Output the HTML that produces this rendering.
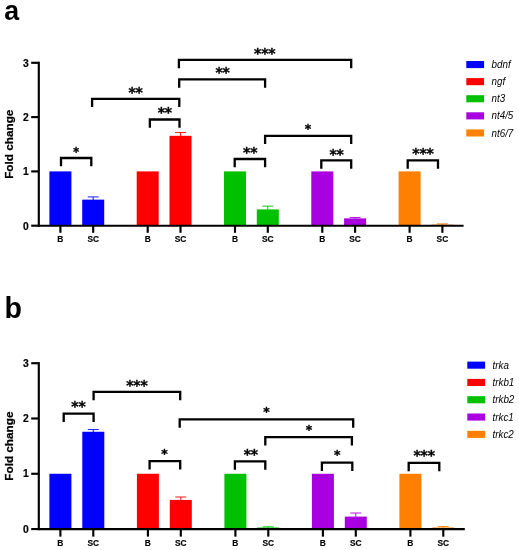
<!DOCTYPE html>
<html><head><meta charset="utf-8"><title>Figure</title>
<style>
html,body{margin:0;padding:0;background:#fff}
svg{display:block}
text{font-family:"Liberation Sans",Arial,Helvetica,sans-serif;fill:#000}
.st{font-family:"DejaVu Sans","Liberation Sans",sans-serif;font-weight:bold;letter-spacing:-0.15px;stroke:#000;stroke-width:0.38px}
.yt{font-weight:bold;font-size:10.3px;stroke:#000;stroke-width:0.2px}
.xt{font-weight:bold;font-size:8.4px;stroke:#000;stroke-width:0.15px}
.yl{font-weight:bold;font-size:11.75px;stroke:#000;stroke-width:0.25px}
.lg{font-style:italic;font-size:10.8px}
.pl{font-weight:bold;font-size:28.5px}
</style></head><body>
<svg width="519" height="550" viewBox="0 0 519 550">
<rect width="519" height="550" fill="#fff"/>
<rect x="49.40" y="171.40" width="22.00" height="54.30" fill="#0000ff"/>
<path d="M87.70 196.92H98.70M93.20 196.92V200.14" stroke="#0000ff" stroke-width="0.9" fill="none"/>
<rect x="82.20" y="199.64" width="22.00" height="26.06" fill="#0000ff"/>
<rect x="136.70" y="171.40" width="22.00" height="54.30" fill="#ff0000"/>
<path d="M175.00 132.58H186.00M180.50 132.58V136.33" stroke="#ff0000" stroke-width="0.9" fill="none"/>
<rect x="169.50" y="135.83" width="22.00" height="89.87" fill="#ff0000"/>
<rect x="224.00" y="171.40" width="22.00" height="54.30" fill="#00c000"/>
<path d="M262.30 206.15H273.30M267.80 206.15V209.91" stroke="#00c000" stroke-width="0.9" fill="none"/>
<rect x="256.80" y="209.41" width="22.00" height="16.29" fill="#00c000"/>
<rect x="311.30" y="171.40" width="22.00" height="54.30" fill="#a800e0"/>
<path d="M349.60 217.45H360.60M355.10 217.45V218.87" stroke="#a800e0" stroke-width="0.9" fill="none"/>
<rect x="344.10" y="218.37" width="22.00" height="7.33" fill="#a800e0"/>
<rect x="398.60" y="171.40" width="22.00" height="54.30" fill="#ff8000"/>
<path d="M436.90 223.85H447.90M442.40 223.85V225.11" stroke="#ff8000" stroke-width="0.9" fill="none"/>
<rect x="431.40" y="224.61" width="22.00" height="1.09" fill="#ff8000"/>
<path d="M38.80 61.73V226.77" stroke="#000" stroke-width="2.15" fill="none"/>
<path d="M37.72 225.70H463.60" stroke="#000" stroke-width="2.15" fill="none"/>
<path d="M31.2 225.70H38.80" stroke="#000" stroke-width="2.15" fill="none"/>
<text class="yt" x="28.8" y="229.55" text-anchor="end">0</text>
<path d="M31.2 171.40H38.80" stroke="#000" stroke-width="2.15" fill="none"/>
<text class="yt" x="28.8" y="175.25" text-anchor="end">1</text>
<path d="M31.2 117.10H38.80" stroke="#000" stroke-width="2.15" fill="none"/>
<text class="yt" x="28.8" y="120.95" text-anchor="end">2</text>
<path d="M31.2 62.80H38.80" stroke="#000" stroke-width="2.15" fill="none"/>
<text class="yt" x="28.8" y="66.65" text-anchor="end">3</text>
<path d="M60.40 225.70V232.80" stroke="#000" stroke-width="2.15" fill="none"/>
<text class="xt" x="60.40" y="242.00" text-anchor="middle">B</text>
<path d="M93.20 225.70V232.80" stroke="#000" stroke-width="2.15" fill="none"/>
<text class="xt" x="93.20" y="242.00" text-anchor="middle">SC</text>
<path d="M147.70 225.70V232.80" stroke="#000" stroke-width="2.15" fill="none"/>
<text class="xt" x="147.70" y="242.00" text-anchor="middle">B</text>
<path d="M180.50 225.70V232.80" stroke="#000" stroke-width="2.15" fill="none"/>
<text class="xt" x="180.50" y="242.00" text-anchor="middle">SC</text>
<path d="M235.00 225.70V232.80" stroke="#000" stroke-width="2.15" fill="none"/>
<text class="xt" x="235.00" y="242.00" text-anchor="middle">B</text>
<path d="M267.80 225.70V232.80" stroke="#000" stroke-width="2.15" fill="none"/>
<text class="xt" x="267.80" y="242.00" text-anchor="middle">SC</text>
<path d="M322.30 225.70V232.80" stroke="#000" stroke-width="2.15" fill="none"/>
<text class="xt" x="322.30" y="242.00" text-anchor="middle">B</text>
<path d="M355.10 225.70V232.80" stroke="#000" stroke-width="2.15" fill="none"/>
<text class="xt" x="355.10" y="242.00" text-anchor="middle">SC</text>
<path d="M409.60 225.70V232.80" stroke="#000" stroke-width="2.15" fill="none"/>
<text class="xt" x="409.60" y="242.00" text-anchor="middle">B</text>
<path d="M442.40 225.70V232.80" stroke="#000" stroke-width="2.15" fill="none"/>
<text class="xt" x="442.40" y="242.00" text-anchor="middle">SC</text>
<text class="yl" transform="translate(12.8 144.25) rotate(-90)" text-anchor="middle">Fold change</text>
<path d="M61.00 166.30V158.00H91.30V166.30" stroke="#000" stroke-width="2.3" fill="none" stroke-linejoin="miter" stroke-linecap="butt"/>
<path d="M149.85 127.80V119.50H179.50V127.80" stroke="#000" stroke-width="2.3" fill="none" stroke-linejoin="miter" stroke-linecap="butt"/>
<path d="M92.10 107.10V98.80H179.30V107.10" stroke="#000" stroke-width="2.3" fill="none" stroke-linejoin="miter" stroke-linecap="butt"/>
<path d="M178.90 68.20V59.90H351.20V68.20" stroke="#000" stroke-width="2.3" fill="none" stroke-linejoin="miter" stroke-linecap="butt"/>
<path d="M179.20 87.70V79.40H265.10V87.70" stroke="#000" stroke-width="2.3" fill="none" stroke-linejoin="miter" stroke-linecap="butt"/>
<path d="M234.70 167.30V159.00H265.10V167.30" stroke="#000" stroke-width="2.3" fill="none" stroke-linejoin="miter" stroke-linecap="butt"/>
<path d="M265.10 144.10V135.80H351.20V144.10" stroke="#000" stroke-width="2.3" fill="none" stroke-linejoin="miter" stroke-linecap="butt"/>
<path d="M321.30 168.70V160.40H351.20V168.70" stroke="#000" stroke-width="2.3" fill="none" stroke-linejoin="miter" stroke-linecap="butt"/>
<path d="M407.70 168.70V160.40H438.00V168.70" stroke="#000" stroke-width="2.3" fill="none" stroke-linejoin="miter" stroke-linecap="butt"/>
<text class="st" style="font-size:11.18px" transform="translate(73.15 156.15) scale(1 1.05)">*</text>
<text class="st" style="font-size:13.90px" transform="translate(128.40 96.92) scale(1 1.05)">**</text>
<text class="st" style="font-size:13.90px" transform="translate(157.65 117.42) scale(1 1.05)">**</text>
<text class="st" style="font-size:13.90px" transform="translate(254.04 57.72) scale(1 1.05)">***</text>
<text class="st" style="font-size:13.90px" transform="translate(215.50 76.62) scale(1 1.05)">**</text>
<text class="st" style="font-size:13.90px" transform="translate(243.10 156.52) scale(1 1.05)">**</text>
<text class="st" style="font-size:12.39px" transform="translate(304.64 132.70) scale(1 1.05)">*</text>
<text class="st" style="font-size:13.90px" transform="translate(329.50 158.52) scale(1 1.05)">**</text>
<text class="st" style="font-size:13.90px" transform="translate(412.34 158.32) scale(1 1.05)">***</text>
<rect x="466.30" y="61.00" width="17.8" height="7.1" fill="#0000ff"/>
<text class="lg" transform="translate(491.50 68.15) scale(0.91 1)">bdnf</text>
<rect x="466.30" y="78.10" width="17.8" height="7.1" fill="#ff0000"/>
<text class="lg" transform="translate(491.50 85.25) scale(0.91 1)">ngf</text>
<rect x="466.30" y="95.20" width="17.8" height="7.1" fill="#00c000"/>
<text class="lg" transform="translate(491.50 102.35) scale(0.91 1)">nt3</text>
<rect x="466.30" y="112.30" width="17.8" height="7.1" fill="#a800e0"/>
<text class="lg" transform="translate(491.50 119.45) scale(0.91 1)">nt4/5</text>
<rect x="466.30" y="129.40" width="17.8" height="7.1" fill="#ff8000"/>
<text class="lg" transform="translate(491.50 136.55) scale(0.91 1)">nt6/7</text>
<rect x="49.40" y="473.77" width="22.00" height="55.28" fill="#0000ff"/>
<path d="M87.80 429.55H98.80M93.30 429.55V432.26" stroke="#0000ff" stroke-width="0.9" fill="none"/>
<rect x="82.30" y="431.76" width="22.00" height="97.29" fill="#0000ff"/>
<rect x="136.90" y="473.77" width="22.00" height="55.28" fill="#ff0000"/>
<path d="M175.30 496.99H186.30M180.80 496.99V500.42" stroke="#ff0000" stroke-width="0.9" fill="none"/>
<rect x="169.80" y="499.92" width="22.00" height="29.13" fill="#ff0000"/>
<rect x="224.40" y="473.77" width="22.00" height="55.28" fill="#00c000"/>
<path d="M262.80 526.84H273.80M268.30 526.84V528.00" stroke="#00c000" stroke-width="0.9" fill="none"/>
<rect x="257.30" y="527.50" width="22.00" height="1.55" fill="#00c000"/>
<rect x="311.90" y="473.77" width="22.00" height="55.28" fill="#a800e0"/>
<path d="M350.30 513.02H361.30M355.80 513.02V517.11" stroke="#a800e0" stroke-width="0.9" fill="none"/>
<rect x="344.80" y="516.61" width="22.00" height="12.44" fill="#a800e0"/>
<rect x="399.40" y="473.77" width="22.00" height="55.28" fill="#ff8000"/>
<path d="M437.80 526.56H448.80M443.30 526.56V528.00" stroke="#ff8000" stroke-width="0.9" fill="none"/>
<rect x="432.30" y="527.50" width="22.00" height="1.55" fill="#ff8000"/>
<path d="M38.80 362.13V530.12" stroke="#000" stroke-width="2.15" fill="none"/>
<path d="M37.72 529.05H464.80" stroke="#000" stroke-width="2.15" fill="none"/>
<path d="M31.2 529.05H38.80" stroke="#000" stroke-width="2.15" fill="none"/>
<text class="yt" x="28.8" y="532.60" text-anchor="end">0</text>
<path d="M31.2 473.77H38.80" stroke="#000" stroke-width="2.15" fill="none"/>
<text class="yt" x="28.8" y="477.32" text-anchor="end">1</text>
<path d="M31.2 418.49H38.80" stroke="#000" stroke-width="2.15" fill="none"/>
<text class="yt" x="28.8" y="422.04" text-anchor="end">2</text>
<path d="M31.2 363.21H38.80" stroke="#000" stroke-width="2.15" fill="none"/>
<text class="yt" x="28.8" y="366.76" text-anchor="end">3</text>
<path d="M60.40 529.05V536.65" stroke="#000" stroke-width="2.15" fill="none"/>
<text class="xt" x="60.40" y="545.85" text-anchor="middle">B</text>
<path d="M93.30 529.05V536.65" stroke="#000" stroke-width="2.15" fill="none"/>
<text class="xt" x="93.30" y="545.85" text-anchor="middle">SC</text>
<path d="M147.90 529.05V536.65" stroke="#000" stroke-width="2.15" fill="none"/>
<text class="xt" x="147.90" y="545.85" text-anchor="middle">B</text>
<path d="M180.80 529.05V536.65" stroke="#000" stroke-width="2.15" fill="none"/>
<text class="xt" x="180.80" y="545.85" text-anchor="middle">SC</text>
<path d="M235.40 529.05V536.65" stroke="#000" stroke-width="2.15" fill="none"/>
<text class="xt" x="235.40" y="545.85" text-anchor="middle">B</text>
<path d="M268.30 529.05V536.65" stroke="#000" stroke-width="2.15" fill="none"/>
<text class="xt" x="268.30" y="545.85" text-anchor="middle">SC</text>
<path d="M322.90 529.05V536.65" stroke="#000" stroke-width="2.15" fill="none"/>
<text class="xt" x="322.90" y="545.85" text-anchor="middle">B</text>
<path d="M355.80 529.05V536.65" stroke="#000" stroke-width="2.15" fill="none"/>
<text class="xt" x="355.80" y="545.85" text-anchor="middle">SC</text>
<path d="M410.40 529.05V536.65" stroke="#000" stroke-width="2.15" fill="none"/>
<text class="xt" x="410.40" y="545.85" text-anchor="middle">B</text>
<path d="M443.30 529.05V536.65" stroke="#000" stroke-width="2.15" fill="none"/>
<text class="xt" x="443.30" y="545.85" text-anchor="middle">SC</text>
<text class="yl" transform="translate(12.8 446.13) rotate(-90)" text-anchor="middle">Fold change</text>
<path d="M63.70 422.00V413.70H93.60V422.00" stroke="#000" stroke-width="2.3" fill="none" stroke-linejoin="miter" stroke-linecap="butt"/>
<path d="M93.60 400.20V391.90H180.20V400.20" stroke="#000" stroke-width="2.3" fill="none" stroke-linejoin="miter" stroke-linecap="butt"/>
<path d="M149.60 469.50V461.20H180.20V469.50" stroke="#000" stroke-width="2.3" fill="none" stroke-linejoin="miter" stroke-linecap="butt"/>
<path d="M179.70 427.75V419.45H353.20V427.75" stroke="#000" stroke-width="2.3" fill="none" stroke-linejoin="miter" stroke-linecap="butt"/>
<path d="M234.90 469.70V461.40H265.30V469.70" stroke="#000" stroke-width="2.3" fill="none" stroke-linejoin="miter" stroke-linecap="butt"/>
<path d="M265.30 445.40V437.10H351.90V445.40" stroke="#000" stroke-width="2.3" fill="none" stroke-linejoin="miter" stroke-linecap="butt"/>
<path d="M321.90 471.00V462.70H352.30V471.00" stroke="#000" stroke-width="2.3" fill="none" stroke-linejoin="miter" stroke-linecap="butt"/>
<path d="M408.70 471.20V462.90H439.30V471.20" stroke="#000" stroke-width="2.3" fill="none" stroke-linejoin="miter" stroke-linecap="butt"/>
<text class="st" style="font-size:13.90px" transform="translate(71.30 410.82) scale(1 1.05)">**</text>
<text class="st" style="font-size:13.90px" transform="translate(126.24 389.72) scale(1 1.05)">***</text>
<text class="st" style="font-size:12.39px" transform="translate(161.24 458.10) scale(1 1.05)">*</text>
<text class="st" style="font-size:12.39px" transform="translate(263.34 416.00) scale(1 1.05)">*</text>
<text class="st" style="font-size:12.39px" transform="translate(305.84 434.10) scale(1 1.05)">*</text>
<text class="st" style="font-size:13.90px" transform="translate(243.70 458.82) scale(1 1.05)">**</text>
<text class="st" style="font-size:12.39px" transform="translate(333.94 459.40) scale(1 1.05)">*</text>
<text class="st" style="font-size:13.90px" transform="translate(413.44 460.02) scale(1 1.05)">***</text>
<rect x="467.30" y="361.60" width="17.8" height="7.1" fill="#0000ff"/>
<text class="lg" transform="translate(492.50 368.75) scale(0.91 1)">trka</text>
<rect x="467.30" y="378.90" width="17.8" height="7.1" fill="#ff0000"/>
<text class="lg" transform="translate(492.50 386.05) scale(0.91 1)">trkb1</text>
<rect x="467.30" y="396.20" width="17.8" height="7.1" fill="#00c000"/>
<text class="lg" transform="translate(492.50 403.35) scale(0.91 1)">trkb2</text>
<rect x="467.30" y="413.50" width="17.8" height="7.1" fill="#a800e0"/>
<text class="lg" transform="translate(492.50 420.65) scale(0.91 1)">trkc1</text>
<rect x="467.30" y="430.80" width="17.8" height="7.1" fill="#ff8000"/>
<text class="lg" transform="translate(492.50 437.95) scale(0.91 1)">trkc2</text>
<text class="pl" transform="translate(4.3 20.2) scale(0.94 1)">a</text>
<text class="pl" style="font-size:29.3px" transform="translate(4.5 318.3) scale(0.975 1)">b</text>
</svg>
</body></html>
